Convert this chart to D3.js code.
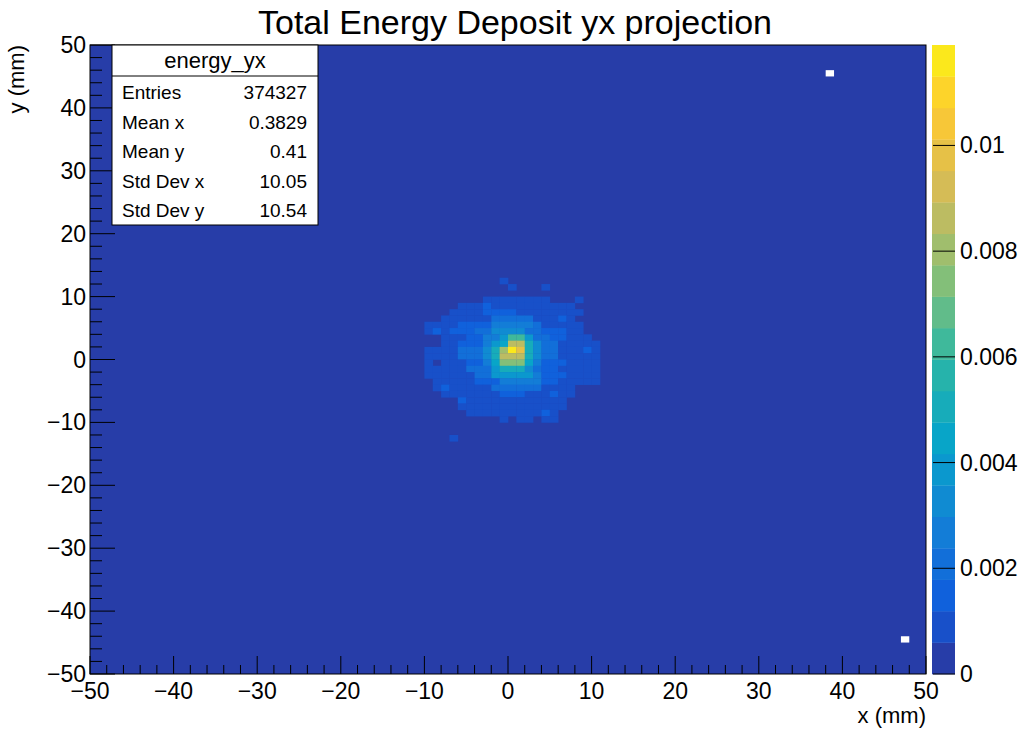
<!DOCTYPE html>
<html>
<head>
<meta charset="utf-8">
<script src="https://cdn.jsdelivr.net/npm/d3@7"></script>
<style>
  body { margin: 0; background: #fff; }
  text { font-family: "Liberation Sans", Arial, sans-serif; }
</style>
</head>
<body>
<svg id="chart" width="1024" height="729"></svg>
<script>
// energy per 1 mm bin, units of 1e-4; columns x = -10..11, rows y = 12..-13
const colX = d3.range(-10, 12);
const rowY = d3.range(12, -14, -1);
const cells = [
  [0,0,0,0,0,0,0,0,0,9,0,0,0,0,0,0,0,0,0,0,0,0],
  [0,0,0,0,0,0,0,0,0,0,9,0,0,0,9,0,0,0,0,0,0,0],
  [0,0,0,0,0,0,0,0,0,0,0,0,0,0,0,0,0,0,0,0,0,0],
  [0,0,0,0,0,0,0,9,9,9,9,9,9,9,9,0,0,0,9,0,0,0],
  [0,0,0,0,9,9,9,15,9,9,9,9,9,9,9,9,9,9,0,0,0,0],
  [0,0,0,9,9,9,9,15,15,15,15,9,9,9,9,9,9,9,9,0,0,0],
  [0,0,9,9,9,9,9,9,18,18,18,18,18,9,9,9,15,9,0,0,0,0],
  [9,9,9,9,15,15,15,15,24,24,24,24,24,18,9,9,9,9,9,0,0,0],
  [9,15,9,15,15,15,21,21,30,30,30,30,21,21,15,15,15,9,9,0,0,0],
  [0,0,9,9,9,15,15,24,24,39,60,60,36,21,21,15,15,9,9,9,0,0],
  [0,0,9,9,15,15,15,27,36,45,87,87,51,30,18,18,9,9,9,9,9,0],
  [9,9,9,9,18,18,18,30,48,81,117,99,51,33,18,18,9,9,9,15,9,0],
  [9,9,9,9,18,18,18,30,51,87,87,87,48,30,18,18,9,9,9,9,9,0],
  [9,0,9,9,9,15,15,27,45,72,72,72,42,27,15,15,15,9,9,9,9,0],
  [9,9,9,9,9,18,18,18,36,51,51,51,33,21,15,15,9,9,9,9,9,0],
  [9,9,9,9,9,9,18,18,39,39,39,39,39,24,15,15,15,9,9,9,9,0],
  [0,9,9,9,9,9,15,15,15,24,24,24,24,24,15,15,9,9,9,9,9,0],
  [0,9,15,9,9,9,9,9,18,18,18,18,18,18,9,9,9,9,0,0,0,0],
  [0,0,9,9,9,9,9,9,9,15,15,15,9,9,9,15,9,9,0,0,0,0],
  [0,0,0,0,15,9,9,9,9,9,9,9,9,9,9,9,9,0,0,0,0,0],
  [0,0,0,0,9,9,9,9,9,9,9,9,9,9,9,9,9,0,0,0,0,0],
  [0,0,0,0,0,9,9,9,9,9,9,9,9,9,15,9,0,0,0,0,0,0],
  [0,0,0,0,0,0,0,0,0,9,0,9,9,0,9,9,0,0,0,0,0,0],
  [0,0,0,0,0,0,0,0,0,0,0,0,0,0,0,0,0,0,0,0,0,0],
  [0,0,0,0,0,0,0,0,0,0,0,0,0,0,0,0,0,0,0,0,0,0],
  [0,0,0,9,0,0,0,0,0,0,0,0,0,0,0,0,0,0,0,0,0,0]
];
// empty bins (drawn white), lower-left corner in mm
const emptyBins = [[38, 45], [47, -45]];
const zMax = 0.0119;
const nLevels = 20;
const zTicks = [0, 0.002, 0.004, 0.006, 0.008, 0.01];
const statsRows = [
  ["Entries", "374327"],
  ["Mean x", "0.3829"],
  ["Mean y", "0.41"],
  ["Std Dev x", "10.05"],
  ["Std Dev y", "10.54"]
];

// ROOT kBird palette
const birdStops = [0, .125, .25, .375, .5, .625, .75, .875, 1];
const birdR = [0.2082, 0.0592, 0.0780, 0.0232, 0.1802, 0.5301, 0.8186, 0.9956, 0.9764];
const birdG = [0.1664, 0.3599, 0.5041, 0.6419, 0.7178, 0.7492, 0.7328, 0.7862, 0.9832];
const birdB = [0.5293, 0.8684, 0.8385, 0.7914, 0.6425, 0.4662, 0.3499, 0.1968, 0.0539];
const bird = d3.scaleLinear().domain(birdStops)
  .range(birdStops.map((s, i) => d3.rgb(birdR[i] * 255, birdG[i] * 255, birdB[i] * 255)))
  .interpolate(d3.interpolateRgb);
const levelColor = l => bird((l + 1) / (nLevels + 1));
const levelOf = v => Math.max(0, Math.min(nLevels - 1, Math.floor(v / zMax * nLevels)));

const svg = d3.select("#chart");
const L = 90, R = 926, T = 45, B = 674;
const x = d3.scaleLinear().domain([-50, 50]).range([L, R]);
const y = d3.scaleLinear().domain([-50, 50]).range([B, T]);

svg.append("rect").attr("x", L).attr("y", T).attr("width", R - L).attr("height", B - T)
  .attr("fill", levelColor(0));

const binData = [];
rowY.forEach((yy, r) => colX.forEach((xx, c) => {
  const v = cells[r][c] * 1e-4;
  if (v > 0) binData.push({ x: xx, y: yy, v });
}));
svg.append("g").selectAll("rect").data(binData).join("rect")
  .attr("x", d => x(d.x)).attr("y", d => y(d.y + 1))
  .attr("width", x(1) - x(0) + 0.3).attr("height", y(0) - y(1) + 0.3)
  .attr("fill", d => levelColor(levelOf(d.v)));
svg.append("g").selectAll("rect").data(emptyBins).join("rect")
  .attr("x", d => x(d[0])).attr("y", d => y(d[1] + 1))
  .attr("width", x(1) - x(0)).attr("height", y(0) - y(1)).attr("fill", "#fff");

// axes with ROOT-style inner ticks
const ax = svg.append("g").attr("stroke", "#000");
d3.range(-50, 51, 2).forEach(v => {
  const len = v % 10 === 0 ? 18 : 9;
  ax.append("line").attr("x1", x(v)).attr("x2", x(v)).attr("y1", B).attr("y2", B - len);
});
d3.range(-50, 51, 2).forEach(v => {
  const len = v % 10 === 0 ? 25 : 12;
  ax.append("line").attr("y1", y(v)).attr("y2", y(v)).attr("x1", L).attr("x2", L + len);
});
svg.append("rect").attr("x", L).attr("y", T).attr("width", R - L).attr("height", B - T)
  .attr("fill", "none").attr("stroke", "#000");

const fmt = v => (v < 0 ? "\u2212" + Math.abs(v) : String(v));
svg.append("g").selectAll("text").data(d3.range(-50, 51, 10)).join("text")
  .attr("x", d => x(d)).attr("y", B + 25).attr("text-anchor", "middle")
  .attr("font-size", 23).text(fmt);
svg.append("g").selectAll("text").data(d3.range(-50, 51, 10)).join("text")
  .attr("x", L - 4).attr("y", d => y(d) + 8).attr("text-anchor", "end")
  .attr("font-size", 23).text(fmt);
svg.append("text").attr("x", R).attr("y", 723).attr("text-anchor", "end")
  .attr("font-size", 22).text("x (mm)");
svg.append("text").attr("transform", "translate(24," + T + ") rotate(-90)")
  .attr("text-anchor", "end").attr("font-size", 22).text("y (mm)");
svg.append("text").attr("x", 515).attr("y", 34).attr("text-anchor", "middle")
  .attr("font-size", 34).text("Total Energy Deposit yx projection");

// colour bar
const cbL = 932, cbR = 955;
const z = d3.scaleLinear().domain([0, zMax]).range([B, T]);
svg.append("g").selectAll("rect").data(d3.range(nLevels)).join("rect")
  .attr("x", cbL).attr("width", cbR - cbL)
  .attr("y", l => z((l + 1) * zMax / nLevels)).attr("height", z(0) - z(zMax / nLevels) + 0.3)
  .attr("fill", levelColor);
svg.append("g").selectAll("line").data(zTicks).join("line")
  .attr("x1", cbR - 22).attr("x2", cbR).attr("y1", d => z(d)).attr("y2", d => z(d))
  .attr("stroke", "#000");
svg.append("g").selectAll("text").data(zTicks).join("text")
  .attr("x", 960).attr("y", d => z(d) + 8).attr("font-size", 23).text(d => d);

// stats box
const sb = svg.append("g");
sb.append("rect").attr("x", 112).attr("y", 45).attr("width", 206).attr("height", 180)
  .attr("fill", "#fff").attr("stroke", "#000");
sb.append("line").attr("x1", 112).attr("x2", 318).attr("y1", 76).attr("y2", 76).attr("stroke", "#000");
sb.append("text").attr("x", 215).attr("y", 68).attr("text-anchor", "middle")
  .attr("font-size", 22).text("energy_yx");
statsRows.forEach((r, i) => {
  sb.append("text").attr("x", 122).attr("y", 99 + i * 29.5).attr("font-size", 19).text(r[0]);
  sb.append("text").attr("x", 307).attr("y", 99 + i * 29.5).attr("text-anchor", "end")
    .attr("font-size", 19).text(r[1]);
});
</script>
</body>
</html>
